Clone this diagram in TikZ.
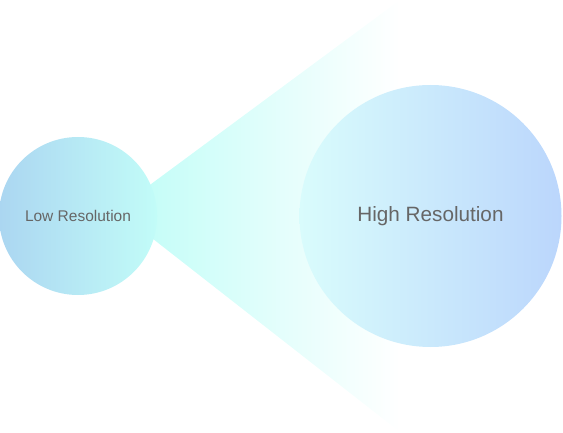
\documentclass[tikz,border=0pt]{standalone}
\usepackage{fontspec}
\setsansfont{Liberation Sans}
\usetikzlibrary{positioning}
\definecolor{lowl}{HTML}{ABD6F1}
\definecolor{lowr}{HTML}{C2FCF8}
\definecolor{highl}{HTML}{D9FCFC}
\definecolor{highr}{HTML}{BBD6FC}
\definecolor{conec}{HTML}{BEFDF7}
\definecolor{txtc}{HTML}{666666}

\begin{document}
\begin{tikzpicture}[x=1pt, y=-1pt, font=\sffamily,
          ball/.style={circle, inner sep=0pt, text=txtc}]
        \useasboundingbox (0,0) rectangle (563,433);
        % cone
        \coordinate (apex) at (116,210);
        \coordinate (ctop) at (400,0);
        \coordinate (cbot) at (400,432);
        \shade[left color=conec, right color=white]
              (apex) -- (ctop) -- (cbot) -- cycle;
        % low
        \node[ball, minimum size=158pt, left color=lowl, right color=lowr,
              font=\sffamily\fontsize{15.5}{18}\selectfont]
              (lowres) at (78,216) {Low Resolution};
        % high
        \node[ball, minimum size=262pt, left color=highl, right color=highr,
              font=\sffamily\fontsize{20.7}{24}\selectfont]
              (highres) at (430.5,216) {High Resolution};
      \end{tikzpicture}
\end{document}
